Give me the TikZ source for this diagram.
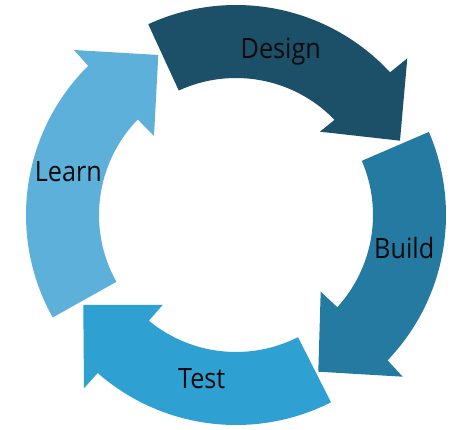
\documentclass[tikz,border=0pt]{standalone}
\usepackage{fontspec}
\setmainfont{Open Sans}[FakeStretch=0.9]
\definecolor{designc}{RGB}{27,80,104}
\definecolor{buildc}{RGB}{36,122,160}
\definecolor{testc}{RGB}{46,160,210}
\definecolor{learnc}{RGB}{92,176,218}
\definecolor{labelc}{RGB}{10,10,10}
\tikzset{
  seg/.style={fill=#1, draw=none},
  lbl/.style={anchor=base, inner sep=0pt, text=labelc, font=\fontsize{28}{32}\selectfont}
}
\begin{document}
\begin{tikzpicture}[x=1pt,y=1pt]
\useasboundingbox (-236,-215) rectangle (238,215);
% Design
\fill[seg=designc] (114.7:210) arc[start angle=114.7, end angle=42.8, radius=210]
  -- (171.3,156.7) -- (164,74.3) -- (84,83.3) -- (44.0:137)
  arc[start angle=44.0, end angle=114.7, radius=137] -- cycle;
% Build
\fill[seg=buildc] (23.3:210) arc[start angle=23.3, end angle=-43.8, radius=210]
  -- (166.7,-161.7) -- (82.3,-156.7) -- (84.7,-76.7) -- (-42.3:137)
  arc[start angle=-42.3, end angle=23.3, radius=137] -- cycle;
% Test
\fill[seg=testc] (-63.1:210) arc[start angle=-63.1, end angle=-131.2, radius=210]
  -- (-152,-173.3) -- (-152.7,-90) -- (-73.3,-90) -- (-129.5:137)
  arc[start angle=-129.5, end angle=-63.1, radius=137] -- cycle;
% Learn
\fill[seg=learnc] (-150.8:210) arc[start angle=-150.8, end angle=-225.25, radius=210]
  -- (-162,165) -- (-77.7,160) -- (-82,79) -- (-224.2:137)
  arc[start angle=-224.2, end angle=-150.8, radius=137] -- cycle;
\node[lbl] (design) at (44.8,156.7) {Design};
\node[lbl] (build) at (168.2,-43.3) {Build};
\node[lbl] (test) at (-34.3,-173.3) {Test};
\node[lbl] (learn) at (-167.7,33.3) {Learn};
\end{tikzpicture}
\end{document}
